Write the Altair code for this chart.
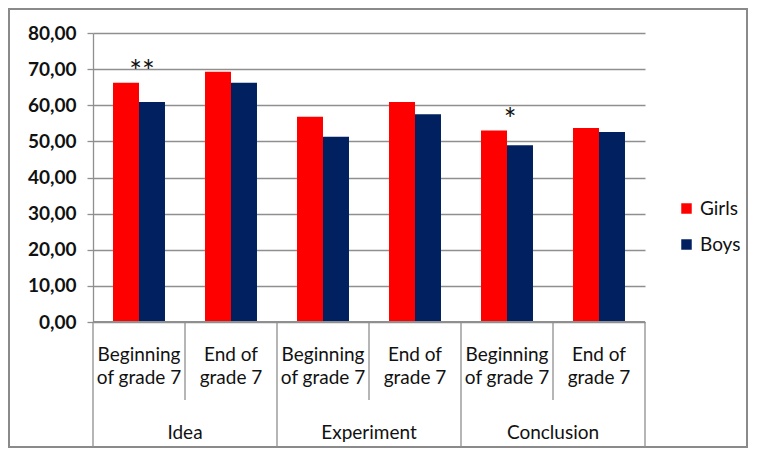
import altair as alt
import pandas as pd

keys = ["Idea|Beg", "Idea|End", "Exp|Beg", "Exp|End", "Conc|Beg", "Conc|End"]
groups = ["Idea", "Idea", "Experiment", "Experiment", "Conclusion", "Conclusion"]
phases = ["Beginning\nof grade 7", "End of\ngrade 7",
          "Beginning\nof grade 7", "End of\ngrade 7",
          "Beginning\nof grade 7", "End of\ngrade 7"]
girls = [66.2, 69.3, 56.8, 60.9, 53.0, 53.7]
boys = [60.9, 66.2, 51.3, 57.5, 48.9, 52.6]
stars = ["**", "", "", "", "*", ""]
series = ["Girls", "Boys"]
colors = ["#FF0000", "#002060"]
ticks = [0, 10, 20, 30, 40, 50, 60, 70, 80]

FONT = "Lato"
GRID = "#8f8f8f"
TXT = "#111111"
W, H = 552, 289
PAD_L, PAD_T = 85, 25
SVG_W, SVG_H = 740, 440

rows = []
for i, k in enumerate(keys):
    rows.append({"key": k, "sex": "Girls", "value": girls[i]})
    rows.append({"key": k, "sex": "Boys", "value": boys[i]})
bars_df = pd.DataFrame(rows)

cat_df = pd.DataFrame({"key": keys, "group": groups, "phase": phases,
                       "girls": girls, "star": stars})

xscale = alt.Scale(domain=keys, paddingInner=0, paddingOuter=0)
yscale = alt.Scale(domain=[0, 80], nice=False, zero=True)
yaxis = alt.Axis(values=ticks, title=None, labelOverlap=False,
                 labelExpr="replace(format(datum.value, '.2f'), '.', ',')",
                 grid=True, gridColor=GRID, gridWidth=1.3,
                 domainColor=GRID, domainWidth=1.3,
                 tickColor=GRID, tickWidth=1.3, tickSize=6,
                 labelPadding=11, labelFont=FONT, labelFontSize=19,
                 labelFontWeight="bold", labelColor=TXT)

bars = alt.Chart(bars_df).mark_bar().encode(
    x=alt.X("key:N", scale=xscale, axis=None, sort=keys),
    xOffset=alt.XOffset("sex:N", sort=series,
                        scale=alt.Scale(domain=series, paddingInner=0, paddingOuter=0.77)),
    y=alt.Y("value:Q", scale=yscale, axis=yaxis),
    color=alt.Color("sex:N", sort=series,
                    scale=alt.Scale(domain=series, range=colors),
                    legend=alt.Legend(title=None, orient="none", legendX=584, legendY=166,
                                      symbolType="square", symbolSize=110,
                                      symbolStrokeWidth=0, labelFont=FONT,
                                      labelFontSize=19, labelColor=TXT,
                                      rowPadding=16, labelOffset=4)),
)

stars_layer = alt.Chart(cat_df).mark_text(
    font=FONT, fontSize=30, baseline="alphabetic", dy=-1, dx=3, color=TXT
).encode(
    x=alt.X("key:N", scale=xscale, sort=keys),
    y=alt.Y("girls:Q", scale=yscale, axis=yaxis),
    text="star:N",
)

baseline = alt.Chart(cat_df).mark_rule(color=GRID, strokeWidth=1.3).encode(
    y=alt.value(H), x=alt.value(0), x2=alt.value(W)
)

sub_sep = alt.Chart(cat_df[cat_df["key"].str.endswith("End")]).mark_rule(
    color=GRID, strokeWidth=1.3
).encode(
    x=alt.X("key:N", scale=xscale, sort=keys, bandPosition=0),
    y=alt.value(H), y2=alt.value(H + 78),
)

bottom_edge = SVG_H - PAD_T - 1

grp_sep = alt.Chart(cat_df[cat_df["key"].str.endswith("Beg")]).mark_rule(
    color=GRID, strokeWidth=1.3
).encode(
    x=alt.X("key:N", scale=xscale, sort=keys, bandPosition=0),
    y=alt.value(H), y2=alt.value(bottom_edge),
)

grp_end = alt.Chart(cat_df[cat_df["key"] == keys[-1]]).mark_rule(
    color=GRID, strokeWidth=1.3
).encode(
    x=alt.X("key:N", scale=xscale, sort=keys, bandPosition=1),
    y=alt.value(H), y2=alt.value(bottom_edge),
)

phase_labels = alt.Chart(cat_df).mark_text(
    font=FONT, fontSize=19, baseline="top", lineBreak="\n", lineHeight=23,
    color=TXT
).encode(
    x=alt.X("key:N", scale=xscale, sort=keys),
    y=alt.value(H + 24),
    text="phase:N",
)

group_labels = alt.Chart(cat_df[cat_df["key"].str.endswith("End")]).mark_text(
    font=FONT, fontSize=19, baseline="alphabetic", color=TXT
).encode(
    x=alt.X("key:N", scale=xscale, sort=keys, bandPosition=0),
    y=alt.value(H + 117),
    text="group:N",
)

border = alt.Chart(cat_df).mark_rect(
    fill=None, stroke="#8a8a8a", strokeWidth=2, clip=False
).encode(
    x=alt.value(-PAD_L + 1), x2=alt.value(SVG_W - PAD_L - 1),
    y=alt.value(-PAD_T + 1), y2=alt.value(SVG_H - PAD_T - 1),
)

chart = alt.layer(
    border, bars, stars_layer, baseline, sub_sep, grp_sep, grp_end,
    phase_labels, group_labels
).properties(
    width=W, height=H,
    autosize=alt.AutoSizeParams(type="none"),
    padding={"left": PAD_L, "top": PAD_T,
             "right": SVG_W - PAD_L - W, "bottom": SVG_H - PAD_T - H},
    background="white",
).configure_view(strokeWidth=0)

chart.save("out.html", embed_options={"renderer": "svg", "actions": False})
